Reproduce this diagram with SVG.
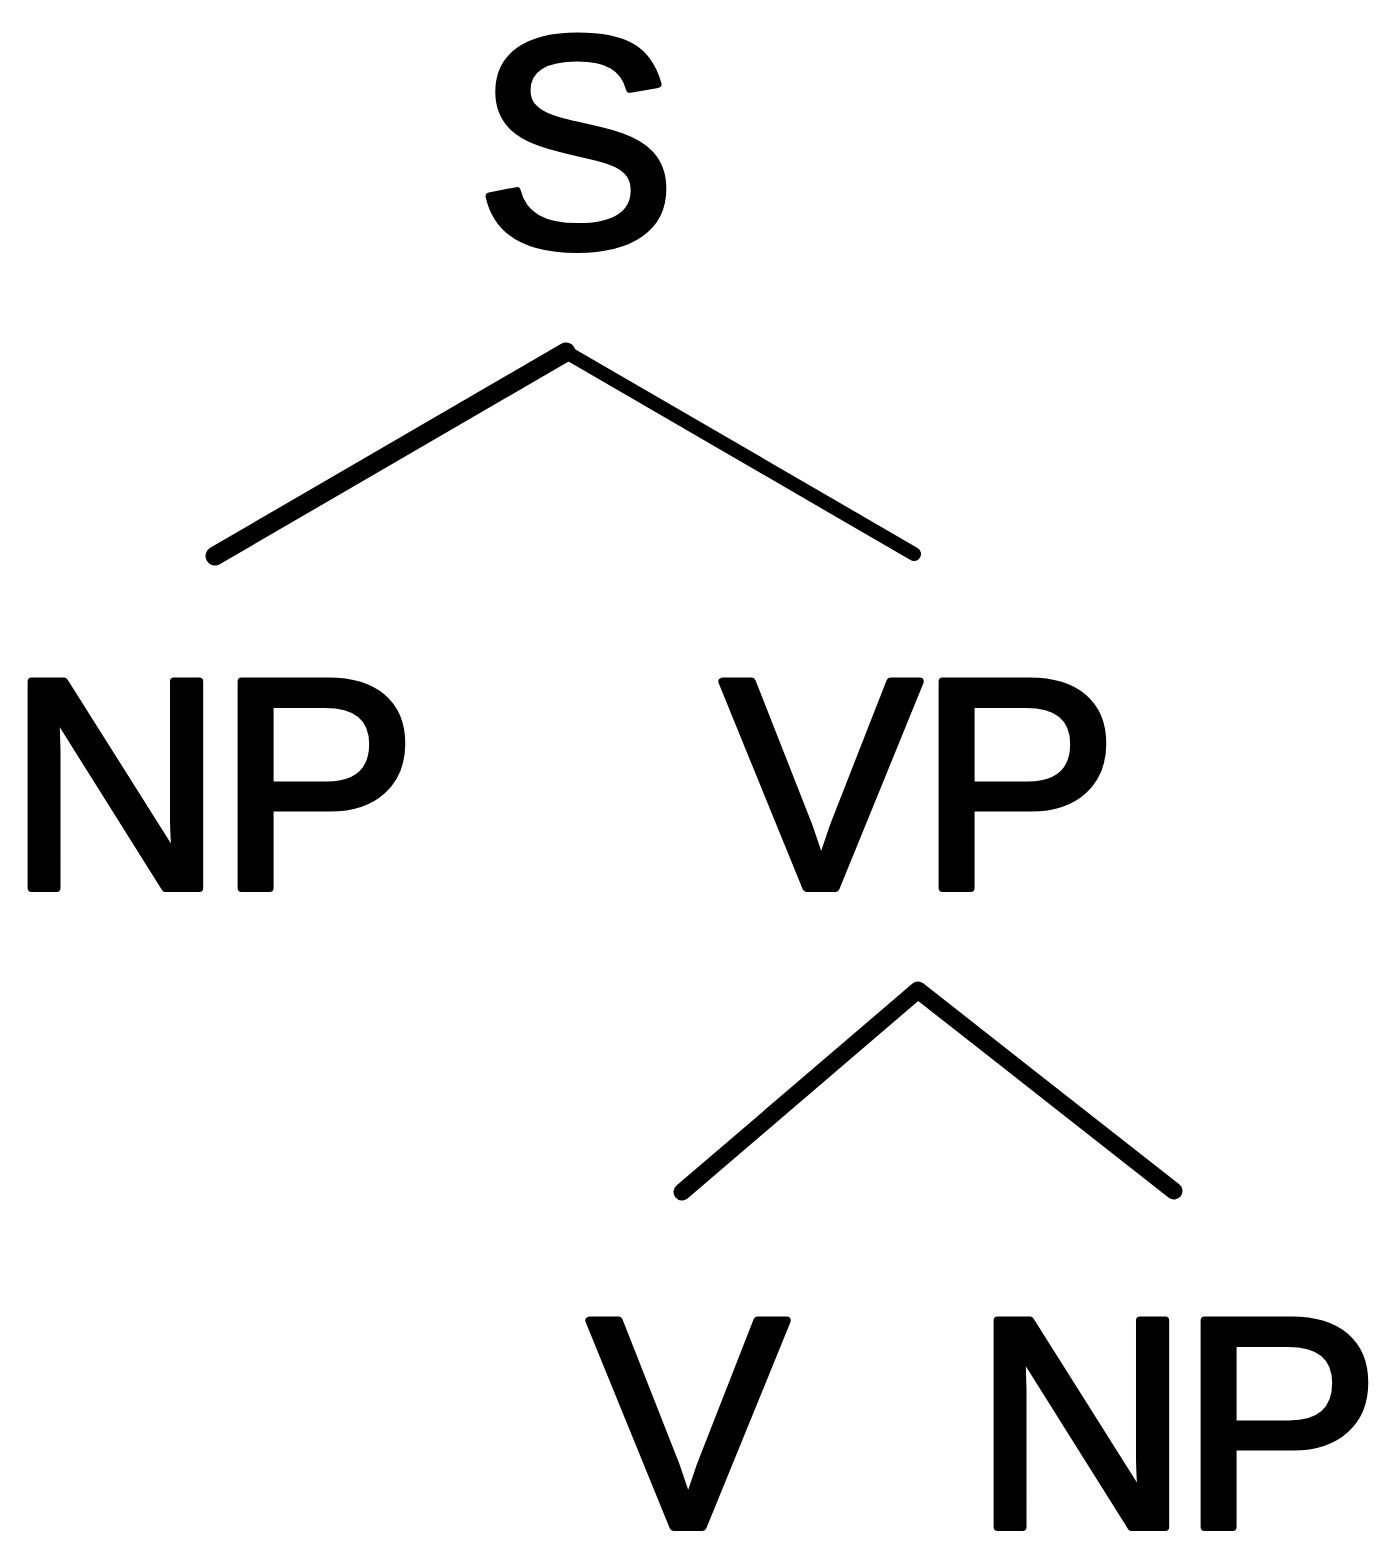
<svg xmlns="http://www.w3.org/2000/svg" width="1400" height="1547" viewBox="0 0 1400 1547">
  <style>
    .lbl { font-family: "Liberation Sans", Arial, sans-serif; font-size: 300px; fill: #000; stroke: #000; stroke-width: 8; stroke-linejoin: round; }
    .edge { fill: none; stroke: #000; stroke-linecap: round; stroke-linejoin: round; }
  </style>
  <rect x="0" y="0" width="1400" height="1547" fill="#fff"/>
  <g id="connectors">
    <path class="edge" d="M 215 556 L 566 352" stroke-width="19"/>
    <path class="edge" d="M 566 352 L 914 554" stroke-width="14"/>
    <path class="edge" d="M 682 1192 L 918 990 L 1174 1191" stroke-width="17"/>
  </g>
  <g id="node-S">
    <text class="lbl" x="476" y="246" font-size="288">S</text>
  </g>
  <g id="node-NP1">
    <text class="lbl" x="7 217" y="888">NP</text>
  </g>
  <g id="node-VP">
    <text class="lbl" x="721 918" y="888">VP</text>
  </g>
  <g id="node-V">
    <text class="lbl" x="588" y="1527">V</text>
  </g>
  <g id="node-NP2">
    <text class="lbl" x="973 1180" y="1527">NP</text>
  </g>
</svg>
